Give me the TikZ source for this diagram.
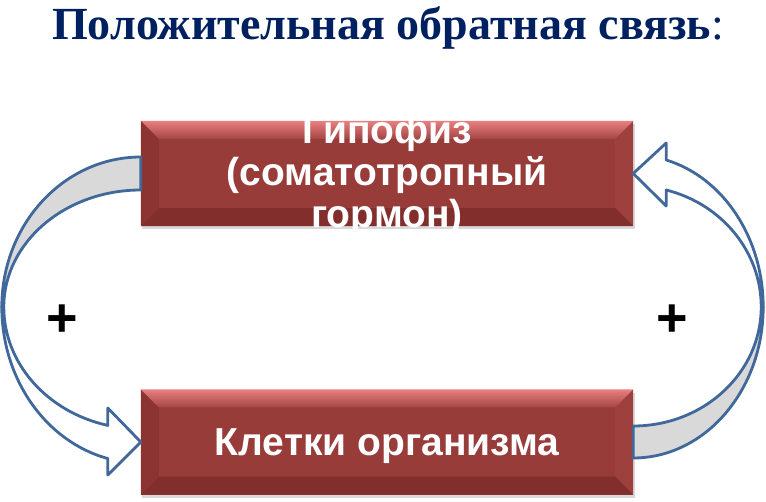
\documentclass[tikz,border=0pt]{standalone}
\usepackage{fontspec}
\setmainfont{Liberation Serif}
\newfontfamily\boxfont{Liberation Sans}
\usetikzlibrary{calc,shadows}

\definecolor{titleblue}{RGB}{0,32,96}
\definecolor{boxface}{RGB}{152,60,58}
\definecolor{bevelhi}{RGB}{232,128,128}
\definecolor{bevello}{RGB}{165,70,68}
\definecolor{bevelleft}{RGB}{140,52,50}
\definecolor{bevelright}{RGB}{158,64,61}
\definecolor{bevelbottom}{RGB}{130,46,44}
\definecolor{arrowblue}{RGB}{64,104,154}
\definecolor{arrowgray}{RGB}{217,217,217}

\tikzset{
  cellbox/.style={rectangle, fill=boxface, minimum width=492bp, minimum height=105bp,
    inner sep=0pt, drop shadow={shadow xshift=1.5bp, shadow yshift=-3bp, opacity=0.3}},
  celltext/.style={text=white, font=\boxfont\bfseries\fontsize{39bp}{42bp}\selectfont,
    align=center, inner sep=0pt},
  backpart/.style={draw=arrowblue, line width=2.8bp, fill=arrowgray, line join=round},
  frontpart/.style={draw=arrowblue, line width=2.8bp, fill=white, line join=round},
  plussign/.style={font=\boxfont\bfseries\fontsize{54bp}{54bp}\selectfont, inner sep=0pt},
  titletext/.style={text=titleblue, font=\bfseries\fontsize{46bp}{46bp}\selectfont, inner sep=0pt}
}

\begin{document}
\begin{tikzpicture}[x=1bp,y=1bp]
  \useasboundingbox (0,0) rectangle (766,-502);
  \node [titletext, anchor=base] (ttl) at (388,-40) {Положительная обратная связь{\mdseries :}};
  % boxes
  \node [cellbox] (gip) at (387,-173.5) {};
  \node [cellbox] (klet) at (387,-442) {};
  \foreach \b in {gip,klet} {
    \fill [bevelleft] (\b.north west) -- (\b.south west) -- ($(\b.south west)+(18,18)$) -- ($(\b.north west)+(18,-18)$) -- cycle;
    \fill [bevelright] (\b.north east) -- (\b.south east) -- ($(\b.south east)+(-18,18)$) -- ($(\b.north east)+(-18,-18)$) -- cycle;
    \fill [bevelbottom] (\b.south west) -- (\b.south east) -- ($(\b.south east)+(-18,18)$) -- ($(\b.south west)+(18,18)$) -- cycle;
    \shade [top color=bevelhi, bottom color=bevello] (\b.north west) -- (\b.north east) -- ($(\b.north east)+(-18,-18)$) -- ($(\b.north west)+(18,-18)$) -- cycle;
  }
  \node [celltext] (giptxt) at ($(gip.center)+(0,-2)$) {Гипофиз\\(соматотропный\\гормон)};
  \node [celltext, anchor=base] (klettxt) at ($(klet.center)+(0,-13)$) {Клетки организма};
  % left arrow
  \draw [backpart] ($(gip.west)+(0,16.5)$) arc [start angle=90, end angle=180, x radius=139, y radius=150] coordinate (lbend)
    -- ++(2,0) arc [start angle=180, end angle=90, x radius=137, y radius=117] -- cycle;
  \draw [frontpart] (lbend) arc [start angle=180, end angle=256.27, x radius=139, y radius=156]
    -- ($(klet.west)+(-33,-33)$) -- (klet.west) -- ($(klet.west)+(-33,34)$) -- ($(klet.west)+(-33,16.6)$)
    arc [start angle=256.06, end angle=180, x radius=137, y radius=122] -- cycle;
  % right arrow
  \draw [backpart] ($(klet.east)+(0,-16)$) arc [start angle=270, end angle=360, x radius=130, y radius=151] coordinate (rbend)
    -- ++(-2,0) arc [start angle=0, end angle=-90, x radius=128, y radius=119] -- cycle;
  \draw [frontpart] (rbend) arc [start angle=0, end angle=75.3, x radius=130, y radius=152]
    -- ($(gip.east)+(33,30.5)$) -- (gip.east) -- ($(gip.east)+(33,-32.5)$) -- ($(gip.east)+(33,-16.5)$)
    arc [start angle=75.06, end angle=0, x radius=128, y radius=121] -- cycle;
  \node [plussign] (plusl) at (62,-321) {+};
  \node [plussign] (plusr) at (672,-321) {+};
\end{tikzpicture}
\end{document}
